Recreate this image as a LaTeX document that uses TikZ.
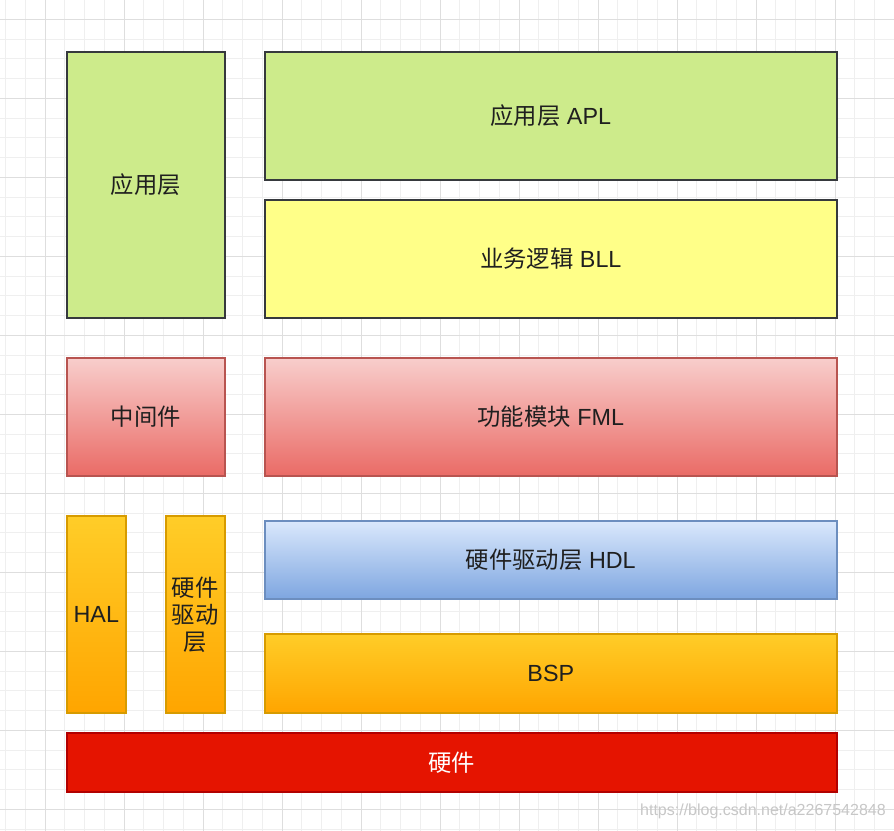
\documentclass[tikz,border=0pt]{standalone}
\usepackage{fontspec}
\setmainfont{Liberation Sans}
\newfontfamily\cjk{Noto Sans CJK SC}
\definecolor{gfill}{HTML}{CDEB8B}
\definecolor{dstroke}{HTML}{36393D}
\definecolor{yfill}{HTML}{FFFF88}
\definecolor{rtop}{HTML}{F8CECC}
\definecolor{rbot}{HTML}{EA6B66}
\definecolor{rstroke}{HTML}{B85450}
\definecolor{btop}{HTML}{DAE8FC}
\definecolor{bbot}{HTML}{7EA6E0}
\definecolor{bstroke}{HTML}{6C8EBF}
\definecolor{otop}{HTML}{FFCD28}
\definecolor{obot}{HTML}{FFA500}
\definecolor{ostroke}{HTML}{D79B00}
\definecolor{hfill}{HTML}{E51400}
\definecolor{hstroke}{HTML}{B20000}
\definecolor{gridminor}{HTML}{EFEFEF}
\definecolor{gridmajor}{HTML}{DEDEDE}
\tikzset{
  box/.style={draw, inner sep=0pt, line width=1.2pt, align=center, anchor=north west,
    font=\fontsize{17.5}{20.25}\selectfont, text=black!88},
  gbox/.style={box, fill=gfill, draw=dstroke},
  ybox/.style={box, fill=yfill, draw=dstroke},
  rbox/.style={box, top color=rtop, bottom color=rbot, draw=rstroke},
  bbox/.style={box, top color=btop, bottom color=bbot, draw=bstroke},
  obox/.style={box, top color=otop, bottom color=obot, draw=ostroke},
  hbox/.style={box, fill=hfill, draw=hstroke, text=white},
  gminor/.style={draw=gridminor, line width=0.75pt},
  gmajor/.style={draw=gridmajor, line width=0.75pt},
}
\begin{document}
\begin{tikzpicture}[x=0.75pt, y=-0.75pt]
\useasboundingbox (0,0) rectangle (894,831);
\fill[white] (0,0) rectangle (894,831);
% grid
\foreach \i in {0,...,46} {
  \draw[gminor] ({5.5+19.75*\i},0) -- ({5.5+19.75*\i},831);
  \draw[gminor] (0,{-0.45+19.75*\i}) -- (894,{-0.45+19.75*\i});
}
\foreach \i in {0,...,11} {
  \draw[gmajor] ({-34+79*\i},0) -- ({-34+79*\i},831);
  \draw[gmajor] (0,{19.3+79*\i}) -- (894,{19.3+79*\i});
}
% boxes
\node[gbox, minimum width=118.5pt, minimum height=199.5pt] (app) at (66,51) {\cjk 应用层};
\node[gbox, minimum width=429pt, minimum height=96pt] (apl) at (264,51) {{\cjk 应用层} APL};
\node[ybox, minimum width=429pt, minimum height=88.5pt] (bll) at (264,199) {{\cjk 业务逻辑} BLL};
\node[rbox, minimum width=118.5pt, minimum height=88.5pt] (mid) at (66,357) {\cjk 中间件};
\node[rbox, minimum width=429pt, minimum height=88.5pt] (fml) at (264,357) {{\cjk 功能模块} FML};
\node[obox, minimum width=44.25pt, minimum height=147.75pt] (hal) at (66,515) {HAL};
\node[obox, minimum width=44.25pt, minimum height=147.75pt] (drv) at (165,515) {\cjk 硬件\\\cjk 驱动\\\cjk 层};
\node[bbox, minimum width=429pt, minimum height=58.5pt] (hdl) at (264,520) {{\cjk 硬件驱动层} HDL};
\node[obox, minimum width=429pt, minimum height=59.25pt] (bsp) at (264,633) {BSP};
\node[hbox, minimum width=577.5pt, minimum height=44.25pt] (hw) at (66,732) {\cjk 硬件};
% watermark
\node[anchor=east, inner sep=0pt, text=black!22, font=\fontsize{12}{14}\selectfont] (wm) at (886,811) {https://blog.csdn.net/a2267542848};
\end{tikzpicture}
\end{document}
